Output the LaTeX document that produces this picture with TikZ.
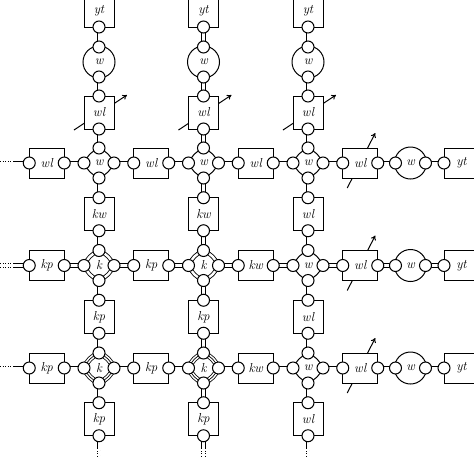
\documentclass[tikz,border=0pt]{standalone}
\usetikzlibrary{arrows.meta}
\pgfdeclarelayer{bg}
\pgfsetlayers{bg,main}
\tikzset{
  ln/.style={line width=1pt},
  port/.style={circle, draw, ln, fill=white, minimum size=12pt, inner sep=0pt},
  hbox/.style={rectangle, draw, ln, fill=white, minimum width=35pt, minimum height=30pt, inner sep=0pt, font=\fontsize{13}{15}\selectfont\itshape},
  vbox/.style={hbox, minimum width=30pt, minimum height=33pt},
  lbl/.style={inner sep=0pt, font=\fontsize{13}{15}\selectfont\itshape},
  dbl/.style={line width=0.9pt, double, double distance=3pt},
  dotend/.style={dbl, dash pattern=on 1pt off 1.6pt},
  tune/.style={ln, -{To[length=4.5pt,width=5.5pt]}},
  kdbl/.style={line width=0.85pt, double, double distance=2.4pt},
  ktri/.style={line width=0.8pt, double, double distance=3.8pt},
  kmid/.style={line width=0.7pt},
}
\begin{document}
\begin{tikzpicture}[x=1pt,y=-1pt]
\useasboundingbox (0,0) rectangle (474,456);
% crossing nodes
\foreach \n/\X/\Y/\t in {11/99/163/w,21/203.5/163/w,31/308/163/w,
  12/99/265.5/k,22/203.5/265.5/k,32/308/265.5/w,
  13/99/368/k,23/203.5/368/k,33/308/368/w}{
  \node[lbl] (c\n) at (\X,\Y) {\t};
  \node[port] (c\n-n) at (\X,\Y-15) {};
  \node[port] (c\n-e) at (\X+15,\Y) {};
  \node[port] (c\n-s) at (\X,\Y+15) {};
  \node[port] (c\n-w) at (\X-15,\Y) {};
}
% horizontal boxes
\foreach \n/\X/\Y/\t in {01/46.75/163/wl, 11/151.25/163/wl, 21/255.75/163/wl, 31/360.25/163/wl,
 02/46.75/265.5/kp, 12/151.25/265.5/kp, 22/255.75/265.5/kw, 32/360.25/265.5/wl,
 03/46.75/368/kp, 13/151.25/368/kp, 23/255.75/368/kw, 33/360.25/368/wl}{
  \node[hbox] (h\n) at (\X,\Y) {\t};
  \node[port] (h\n-w) at (\X-17.5,\Y) {};
  \node[port] (h\n-e) at (\X+17.5,\Y) {};
}
% vertical boxes
\foreach \n/\X/\Y/\t in {10/99/112.5/wl, 20/203.5/112.5/wl, 30/308/112.5/wl,
 11/99/214.25/kw, 21/203.5/214.25/kw, 31/308/214.25/wl,
 12/99/316.75/kp, 22/203.5/316.75/kp, 32/308/316.75/wl,
 13/99/419.25/kp, 23/203.5/419.25/kp, 33/308/419.25/wl}{
  \node[vbox] (v\n) at (\X,\Y) {\t};
  \node[port] (v\n-n) at (\X,\Y-16.5) {};
  \node[port] (v\n-s) at (\X,\Y+16.5) {};
}
% top w rings and yt boxes
\foreach \i/\X in {1/99,2/203.5,3/308}{
  \node[lbl] (tw\i) at (\X,62) {w};
  \node[port] (tw\i-n) at (\X,47) {};
  \node[port] (tw\i-s) at (\X,77) {};
  \node[vbox] (ty\i) at (\X,10.5) {yt};
  \node[port] (ty\i-s) at (\X,27) {};
  \coordinate (be\i) at (\X,448);
  \coordinate (bz\i) at (\X,456);
}
% right w rings and yt boxes
\foreach \j/\Y in {1/163,2/265.5,3/368}{
  \node[lbl] (rw\j) at (410.5,\Y) {w};
  \node[port] (rw\j-w) at (395.5,\Y) {};
  \node[port] (rw\j-e) at (425.5,\Y) {};
  \node[hbox] (ry\j) at (461.5,\Y) {yt};
  \node[port] (ry\j-w) at (444,\Y) {};
  \coordinate (le\j) at (14,\Y);
  \coordinate (lz\j) at (0,\Y);
}
\begin{pgfonlayer}{bg}
  % crossing outlines
  \foreach \n in {11,21,31,32,33}{
    \draw[ln] (c\n-n.center) to[bend left=20] (c\n-e.center) to[bend left=20] (c\n-s.center) to[bend left=20] (c\n-w.center) to[bend left=20] (c\n-n.center);}
  \foreach \n in {12,22}{
    \draw[kdbl] (c\n-n.center) to[bend left=20] (c\n-e.center) to[bend left=20] (c\n-s.center) to[bend left=20] (c\n-w.center) to[bend left=20] (c\n-n.center);}
  \foreach \n in {13,23}{
    \draw[ktri] (c\n-n.center) to[bend left=20] (c\n-e.center) to[bend left=20] (c\n-s.center) to[bend left=20] (c\n-w.center) to[bend left=20] (c\n-n.center);
    \draw[kmid] (c\n-n.center) to[bend left=20] (c\n-e.center) to[bend left=20] (c\n-s.center) to[bend left=20] (c\n-w.center) to[bend left=20] (c\n-n.center);}
  % rings
  \foreach \i in {1,2,3}{
    \draw[ln] (tw\i.center) circle[radius=16pt];
    \draw[ln] (rw\i.center) circle[radius=16pt];}
  % tuning arrows
  \foreach \i in {1,2,3}{
    \path (v\i0.center) ++(-25,17.5) coordinate (ta\i) ++(53,-35) coordinate (tb\i);
    \draw[tune] (ta\i) -- (tb\i);
  }
  \foreach \j in {1,2,3}{
    \path (h3\j.center) ++(-13,25) coordinate (ra\j) ++(28,-55) coordinate (rb\j);
    \draw[tune] (ra\j) -- (rb\j);
  }
  % vertical connectors
  \foreach \i in {1,2,3}{
    \draw[dbl] (ty\i-s.center) -- (tw\i-n.center);
    \draw[dbl] (tw\i-s.center) -- (v\i0-n.center);
    \draw[dbl] (v\i0-s.center) -- (c\i1-n.center);
    \draw[dbl] (c\i1-s.center) -- (v\i1-n.center);
    \draw[dbl] (v\i1-s.center) -- (c\i2-n.center);
    \draw[dbl] (c\i2-s.center) -- (v\i2-n.center);
    \draw[dbl] (v\i2-s.center) -- (c\i3-n.center);
    \draw[dbl] (c\i3-s.center) -- (v\i3-n.center);
    \draw[dbl] (v\i3-s.center) -- (be\i);
    \draw[dotend] (be\i) -- (bz\i);
  }
  % horizontal connectors
  \foreach \j in {1,2,3}{
    \draw[dotend] (lz\j) -- (le\j);
    \draw[dbl] (le\j) -- (h0\j-w.center);
    \draw[dbl] (h0\j-e.center) -- (c1\j-w.center);
    \draw[dbl] (c1\j-e.center) -- (h1\j-w.center);
    \draw[dbl] (h1\j-e.center) -- (c2\j-w.center);
    \draw[dbl] (c2\j-e.center) -- (h2\j-w.center);
    \draw[dbl] (h2\j-e.center) -- (c3\j-w.center);
    \draw[dbl] (c3\j-e.center) -- (h3\j-w.center);
    \draw[dbl] (h3\j-e.center) -- (rw\j-w.center);
    \draw[dbl] (rw\j-e.center) -- (ry\j-w.center);
  }
\end{pgfonlayer}
\end{tikzpicture}
\end{document}
